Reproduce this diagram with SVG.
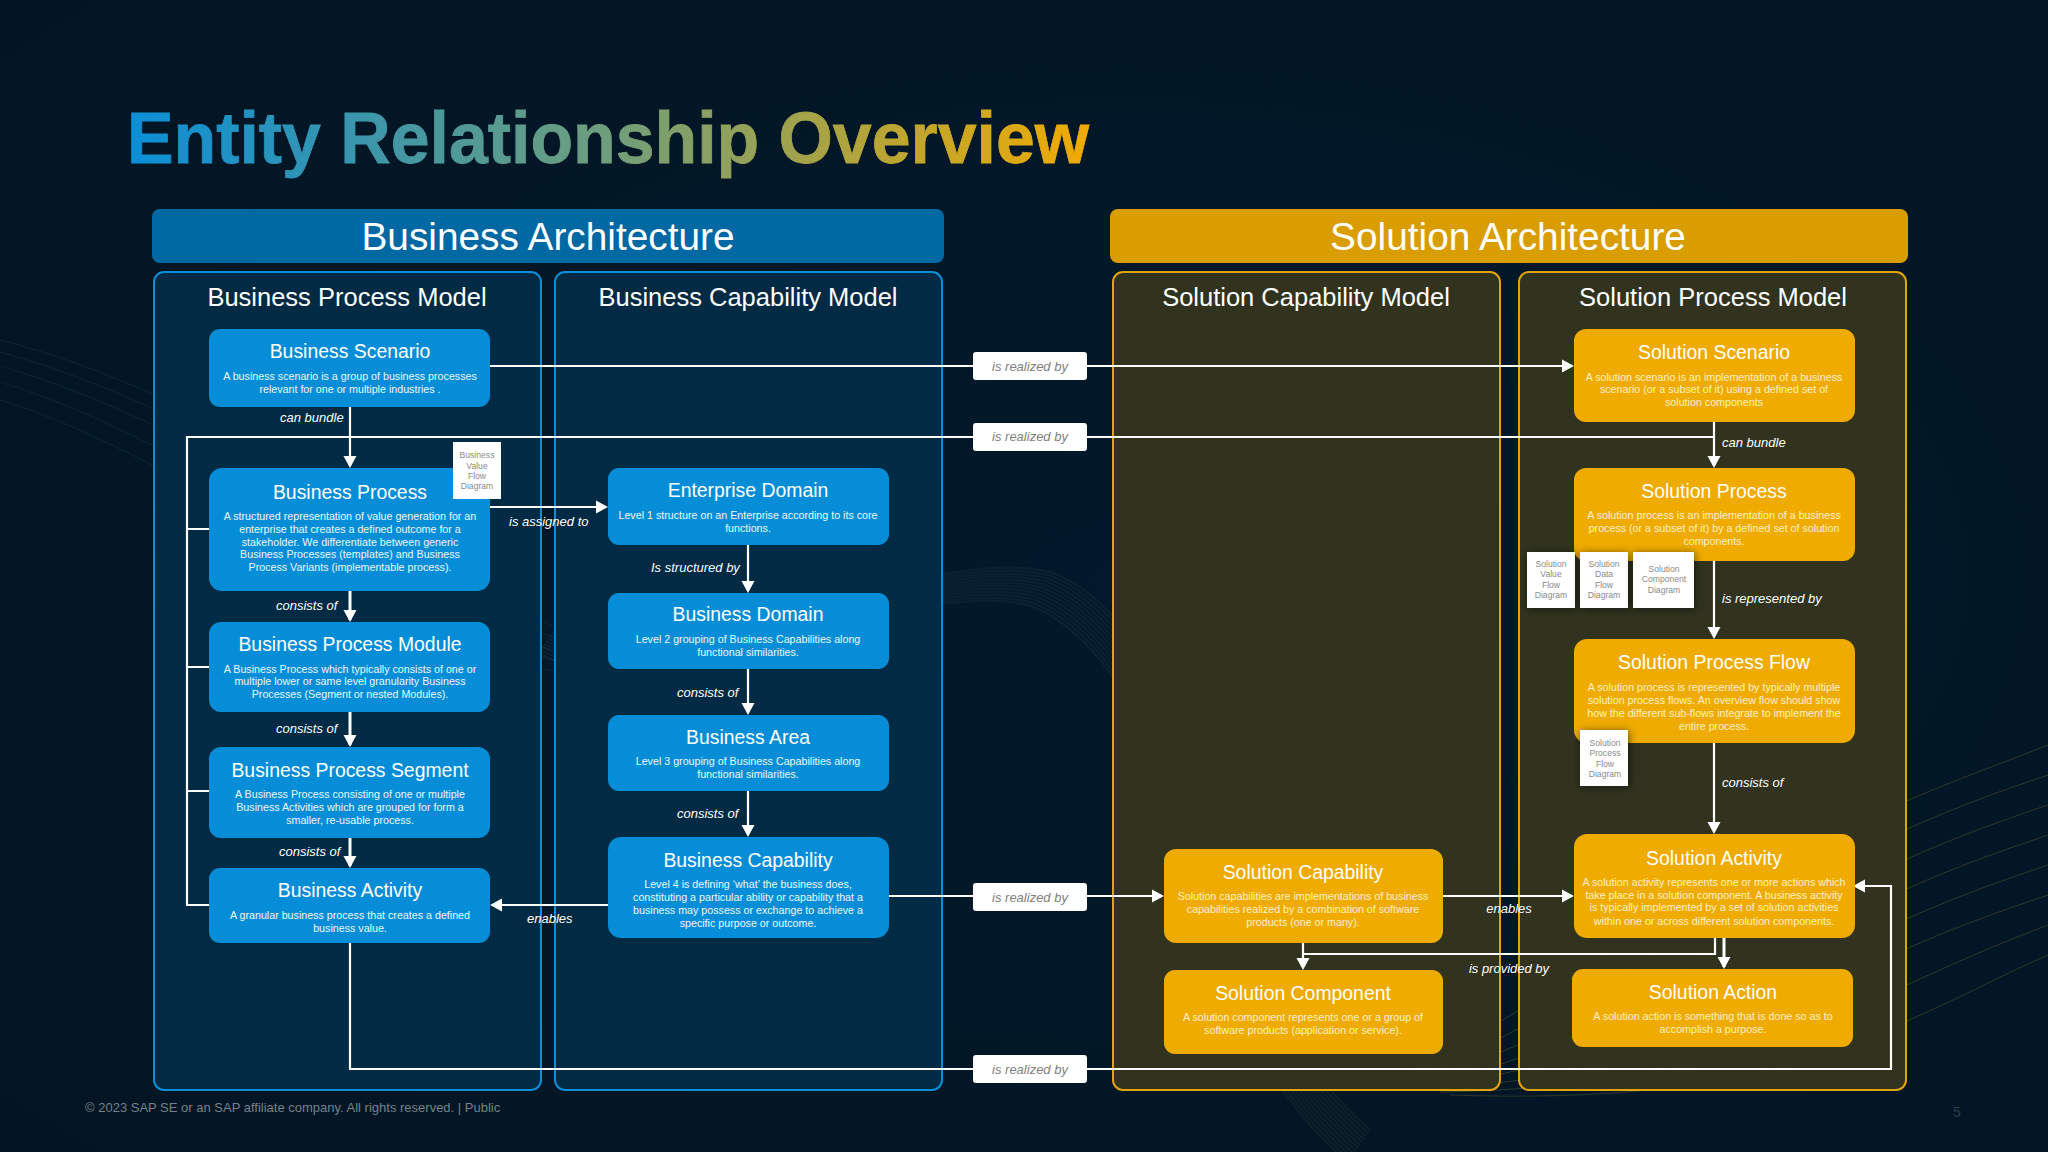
<svg xmlns="http://www.w3.org/2000/svg" xmlns:xlink="http://www.w3.org/1999/xlink" width="2048" height="1152" viewBox="0 0 2048 1152">
<defs>
<linearGradient id="titleGrad" gradientUnits="userSpaceOnUse" x1="127" y1="0" x2="1090" y2="0"><stop offset="0" stop-color="#0a8fd8"/><stop offset="0.5" stop-color="#6f9e7c"/><stop offset="1" stop-color="#f0ab00"/></linearGradient>
<radialGradient id="bgGrad" cx="0.55" cy="0.5" r="0.75"><stop offset="0" stop-color="#03192b"/><stop offset="1" stop-color="#021523"/></radialGradient>
<linearGradient id="waveMid" gradientUnits="userSpaceOnUse" x1="560" y1="0" x2="1350" y2="0"><stop offset="0" stop-color="#8ccbd6"/><stop offset="0.5" stop-color="#7fb0a0"/><stop offset="1" stop-color="#c6b24a"/></linearGradient>
<filter id="shadow" x="-30%" y="-30%" width="160%" height="160%"><feDropShadow dx="1" dy="1" stdDeviation="4" flood-color="#000" flood-opacity="0.55"/></filter>
<marker id="arrow" markerUnits="userSpaceOnUse" markerWidth="14" markerHeight="14" refX="10" refY="7" orient="auto"><path d="M0,0.5 L12,7 L0,13.5 Z" fill="#fff"/></marker>
<path id="wm" d="M560,620 C660,670 780,615 880,588 C950,570 1010,562 1050,572 C1130,600 1190,720 1230,880 C1250,970 1290,1060 1370,1130" fill="none" stroke="url(#waveMid)" stroke-width="2.2" stroke-opacity="0.055"/>
</defs>
<style>
text{font-family:"Liberation Sans",Arial,sans-serif;}
.hdr{font-size:38.8px;fill:#fff;text-anchor:middle;}
.ptitle{font-size:25.5px;fill:#fff;text-anchor:middle;}
.t{font-size:19.4px;fill:#fff;text-anchor:middle;}
.d{font-size:10.7px;fill:#edf7fc;text-anchor:middle;}
.g .d{fill:#fff1c9;}
.bbox{fill:#058ed7;}
.gbox{fill:#f0ab00;}
.bpanel{fill:#012b46;fill-opacity:0.95;stroke:#0a8fd8;stroke-width:2;}
.gpanel{fill:#34351f;fill-opacity:0.95;stroke:#e3a40a;stroke-width:2;}
.c{fill:none;stroke:#fff;stroke-width:2.2;}
.c3{fill:none;stroke:#fff;stroke-width:3;}
.lab{font-size:13px;font-style:italic;fill:#fff;}
.rel{fill:#fff;}
.relt{font-size:13px;font-style:italic;fill:#808080;text-anchor:middle;}
.doc{fill:#fff;}
.doct{font-size:8.6px;fill:#8a8a8a;text-anchor:middle;}
.w1{fill:none;stroke:#9fd0e0;stroke-width:1;stroke-opacity:0.08;}
.w2{fill:none;stroke:#d6bf4a;stroke-width:1;stroke-opacity:0.2;}
</style>
<rect id="background" width="2048" height="1152" fill="url(#bgGrad)"/>
<g id="waves">
<path class="w1" d="M0,340 C120,370 260,440 400,530 S560,640 640,655"/>
<path class="w1" d="M0,352 C120,385 260,455 400,545 S560,650 640,662"/>
<path class="w1" d="M0,366 C120,400 250,470 390,560 S560,660 640,668"/>
<path class="w1" d="M0,382 C110,415 240,490 380,575 S560,668 640,672"/>
<path class="w1" d="M0,400 C100,430 230,505 370,590 S560,676 640,678"/>
<use href="#wm"/><use href="#wm" transform="translate(-2,3)"/><use href="#wm" transform="translate(-4,6)"/><use href="#wm" transform="translate(-6,9)"/><use href="#wm" transform="translate(-8,12)"/><use href="#wm" transform="translate(-10,15)"/><use href="#wm" transform="translate(-12,18)"/><use href="#wm" transform="translate(-14,21)"/><use href="#wm" transform="translate(-16,24)"/><use href="#wm" transform="translate(-18,27)"/><use href="#wm" transform="translate(-20,30)"/><use href="#wm" transform="translate(-22,33)"/>
<path class="w2" d="M1380,1090 C1500,1030 1600,950 1760,870 S1960,780 2048,745"/>
<path class="w2" d="M1390,1090 C1510,1040 1620,970 1770,895 S1960,805 2048,775"/>
<path class="w2" d="M1400,1090 C1520,1050 1640,990 1780,920 S1960,835 2048,805"/>
<path class="w2" d="M1410,1090 C1530,1060 1660,1010 1790,945 S1960,865 2048,835"/>
<path class="w2" d="M1420,1090 C1540,1070 1680,1030 1800,970 S1960,895 2048,865"/>
<path class="w2" d="M1430,1090 C1560,1080 1700,1050 1810,995 S1960,925 2048,895"/>
<path class="w2" d="M1440,1092 C1570,1090 1720,1070 1830,1020 S1970,955 2048,925"/>
<path class="w2" d="M1450,1095 C1590,1100 1740,1090 1850,1045 S1980,985 2048,955"/>
</g>
<text id="title" x="127" y="163" font-size="72" font-weight="700" fill="url(#titleGrad)" stroke="url(#titleGrad)" stroke-width="0.8" textLength="962" lengthAdjust="spacingAndGlyphs">Entity Relationship Overview</text>
<g id="header-business"><rect x="152" y="209" width="792" height="54" rx="8" fill="#0068a3"/><text class="hdr" x="548" y="250">Business Architecture</text></g>
<g id="header-solution"><rect x="1110" y="209" width="798" height="54" rx="8" fill="#d99d00"/><text class="hdr" x="1508" y="250">Solution Architecture</text></g>
<g id="panel-bpm"><rect class="bpanel" x="154" y="272" width="387" height="818" rx="10"/><text class="ptitle" x="347" y="306">Business Process Model</text></g>
<g id="panel-bcm"><rect class="bpanel" x="555" y="272" width="387" height="818" rx="10"/><text class="ptitle" x="748" y="306">Business Capability Model</text></g>
<g id="panel-scm"><rect class="gpanel" x="1113" y="272" width="387" height="818" rx="10"/><text class="ptitle" x="1306" y="306">Solution Capability Model</text></g>
<g id="panel-spm"><rect class="gpanel" x="1519" y="272" width="387" height="818" rx="10"/><text class="ptitle" x="1713" y="306">Solution Process Model</text></g>

<g id="connectors">
<path class="c" d="M490,366H1572" marker-end="url(#arrow)"/>
<path class="c" d="M350,407V466" marker-end="url(#arrow)"/>
<path class="c" d="M1714,437H187V905H209"/>
<path class="c" d="M187,529H209M187,667H209M187,791H209"/>
<path class="c" d="M1714,422V466" marker-end="url(#arrow)"/>
<path class="c" d="M490,507H606" marker-end="url(#arrow)"/>
<path class="c3" d="M350,591V620" marker-end="url(#arrow)"/>
<path class="c3" d="M350,712V745" marker-end="url(#arrow)"/>
<path class="c3" d="M350,838V866" marker-end="url(#arrow)"/>
<path class="c" d="M748,545V591" marker-end="url(#arrow)"/>
<path class="c" d="M748,669V713" marker-end="url(#arrow)"/>
<path class="c" d="M748,791V835" marker-end="url(#arrow)"/>
<path class="c" d="M608,905H492" marker-end="url(#arrow)"/>
<path class="c" d="M889,896H1162" marker-end="url(#arrow)"/>
<path class="c" d="M1443,896H1572" marker-end="url(#arrow)"/>
<path class="c" d="M1714,561V637" marker-end="url(#arrow)"/>
<path class="c" d="M1714,743V832" marker-end="url(#arrow)"/>
<path class="c" d="M1715,938V954H1303"/>
<path class="c" d="M1303,943V968" marker-end="url(#arrow)"/>
<path class="c3" d="M1724,938V967" marker-end="url(#arrow)"/>
<path class="c" d="M350,943V1069H1891V886H1855" marker-end="url(#arrow)"/>
</g>

<g id="connector-labels">
<text class="lab" x="280" y="422">can bundle</text>
<text class="lab" x="276" y="610">consists of</text>
<text class="lab" x="276" y="733">consists of</text>
<text class="lab" x="279" y="856">consists of</text>
<text class="lab" x="527" y="923">enables</text>
<text class="lab" x="509" y="526">is assigned to</text>
<text class="lab" x="651" y="572">Is structured by</text>
<text class="lab" x="677" y="697">consists of</text>
<text class="lab" x="677" y="818">consists of</text>
<text class="lab" x="1722" y="447">can bundle</text>
<text class="lab" x="1722" y="603">is represented by</text>
<text class="lab" x="1722" y="787">consists of</text>
<text class="lab" x="1509" y="913" text-anchor="middle">enables</text>
<text class="lab" x="1509" y="973" text-anchor="middle">is provided by</text>
<g id="rel1"><rect class="rel" x="973" y="352" width="114" height="28" rx="3"/><text class="relt" x="1030" y="370.5">is realized by</text></g>
<g id="rel2"><rect class="rel" x="973" y="423" width="114" height="28" rx="3"/><text class="relt" x="1030" y="441">is realized by</text></g>
<g id="rel3"><rect class="rel" x="973" y="883" width="114" height="28" rx="3"/><text class="relt" x="1030" y="902">is realized by</text></g>
<g id="rel4"><rect class="rel" x="973" y="1055" width="114" height="28" rx="3"/><text class="relt" x="1030" y="1074">is realized by</text></g>
</g>

<g id="business-scenario"><rect class="bbox" x="209" y="329" width="281" height="78" rx="11"/><text class="t" x="350" y="358">Business Scenario</text><text class="d" x="350" y="380">A business scenario is a group of business processes</text><text class="d" x="350" y="392.5">relevant for one or multiple  industries .</text></g>
<g id="business-process"><rect class="bbox" x="209" y="468" width="281" height="123" rx="13"/><text class="t" x="350" y="499">Business Process</text><text class="d" x="350" y="520">A structured representation of  value generation for an</text><text class="d" x="350" y="533">enterprise that creates a defined outcome for a</text><text class="d" x="350" y="546">stakeholder. We differentiate between generic</text><text class="d" x="350" y="558">Business Processes (templates) and Business</text><text class="d" x="350" y="571">Process Variants (implementable  process).</text></g>
<g id="business-process-module"><rect class="bbox" x="209" y="622" width="281" height="90" rx="12"/><text class="t" x="350" y="651">Business Process Module</text><text class="d" x="350" y="673">A Business Process which typically consists of one or</text><text class="d" x="350" y="685">multiple  lower or same level granularity Business</text><text class="d" x="350" y="698">Processes (Segment or nested Modules).</text></g>
<g id="business-process-segment"><rect class="bbox" x="209" y="747" width="281" height="91" rx="12"/><text class="t" x="350" y="777">Business Process Segment</text><text class="d" x="350" y="798">A Business Process consisting of one or multiple</text><text class="d" x="350" y="811">Business Activities which are grouped for form a</text><text class="d" x="350" y="824">smaller, re-usable process.</text></g>
<g id="business-activity"><rect class="bbox" x="209" y="868" width="281" height="75" rx="11"/><text class="t" x="350" y="897">Business Activity</text><text class="d" x="350" y="919">A granular business process that creates a defined</text><text class="d" x="350" y="932">business value.</text></g>

<g id="enterprise-domain"><rect class="bbox" x="608" y="468" width="281" height="77" rx="11"/><text class="t" x="748" y="497">Enterprise Domain</text><text class="d" x="748" y="519">Level 1 structure on an Enterprise according to its core</text><text class="d" x="748" y="532">functions.</text></g>
<g id="business-domain"><rect class="bbox" x="608" y="593" width="281" height="76" rx="11"/><text class="t" x="748" y="621">Business Domain</text><text class="d" x="748" y="643">Level 2 grouping of Business Capabilities along</text><text class="d" x="748" y="656">functional similarities.</text></g>
<g id="business-area"><rect class="bbox" x="608" y="715" width="281" height="76" rx="11"/><text class="t" x="748" y="744">Business Area</text><text class="d" x="748" y="765">Level 3 grouping of Business Capabilities along</text><text class="d" x="748" y="778">functional similarities.</text></g>
<g id="business-capability"><rect class="bbox" x="608" y="837" width="281" height="101" rx="13"/><text class="t" x="748" y="867">Business Capability</text><text class="d" x="748" y="888">Level 4 is defining ‘what’ the business does,</text><text class="d" x="748" y="901">constituting a particular ability or capability that a</text><text class="d" x="748" y="914">business may possess or exchange to achieve a</text><text class="d" x="748" y="927">specific purpose or outcome.</text></g>

<g id="solution-capability" class="g"><rect class="gbox" x="1164" y="849" width="279" height="94" rx="12"/><text class="t" x="1303" y="879">Solution Capability</text><text class="d" x="1303" y="900">Solution capabilities are implementations of business</text><text class="d" x="1303" y="913">capabilities realized by a combination of software</text><text class="d" x="1303" y="926">products (one or many).</text></g>
<g id="solution-component" class="g"><rect class="gbox" x="1164" y="970" width="279" height="84" rx="11"/><text class="t" x="1303" y="1000">Solution Component</text><text class="d" x="1303" y="1021">A solution component represents one or a group of</text><text class="d" x="1303" y="1034">software products (application or service).</text></g>
<g id="solution-scenario" class="g"><rect class="gbox" x="1574" y="329" width="281" height="93" rx="12"/><text class="t" x="1714" y="359">Solution Scenario</text><text class="d" x="1714" y="381">A solution scenario is an implementation of a business</text><text class="d" x="1714" y="393">scenario (or a subset of it) using a defined set of</text><text class="d" x="1714" y="406">solution components</text></g>
<g id="solution-process" class="g"><rect class="gbox" x="1574" y="468" width="281" height="93" rx="12"/><text class="t" x="1714" y="498">Solution Process</text><text class="d" x="1714" y="519">A solution process is an implementation of a business</text><text class="d" x="1714" y="532">process (or a subset of it) by a defined set of solution</text><text class="d" x="1714" y="545">components.</text></g>
<g id="solution-process-flow" class="g"><rect class="gbox" x="1574" y="639" width="281" height="104" rx="13"/><text class="t" x="1714" y="669">Solution Process Flow</text><text class="d" x="1714" y="691">A solution process is represented by typically multiple</text><text class="d" x="1714" y="704">solution process flows. An overview flow should show</text><text class="d" x="1714" y="717">how the different sub-flows integrate to implement  the</text><text class="d" x="1714" y="730">entire process.</text></g>
<g id="solution-activity" class="g"><rect class="gbox" x="1574" y="834" width="281" height="104" rx="13"/><text class="t" x="1714" y="865">Solution Activity</text><text class="d" x="1714" y="886">A solution activity represents one or more actions which</text><text class="d" x="1714" y="899">take place in a solution component. A business activity</text><text class="d" x="1714" y="911">is typically implemented by a set of solution activities</text><text class="d" x="1714" y="925">within one or across different solution components.</text></g>
<g id="solution-action" class="g"><rect class="gbox" x="1572" y="969" width="281" height="78" rx="11"/><text class="t" x="1713" y="999">Solution Action</text><text class="d" x="1713" y="1020">A solution action is something that is done so as to</text><text class="d" x="1713" y="1033">accomplish a purpose.</text></g>

<g id="doc-business-value"><rect class="doc" x="453" y="442" width="48" height="57"/><text class="doct" x="477" y="458">Business</text><text class="doct" x="477" y="469">Value</text><text class="doct" x="477" y="479">Flow</text><text class="doct" x="477" y="489">Diagram</text></g>
<g id="doc-solution-value"><rect class="doc" x="1527" y="552" width="48" height="56" filter="url(#shadow)"/><text class="doct" x="1551" y="567">Solution</text><text class="doct" x="1551" y="577">Value</text><text class="doct" x="1551" y="588">Flow</text><text class="doct" x="1551" y="598">Diagram</text></g>
<g id="doc-solution-data"><rect class="doc" x="1580" y="552" width="48" height="56" filter="url(#shadow)"/><text class="doct" x="1604" y="567">Solution</text><text class="doct" x="1604" y="577">Data</text><text class="doct" x="1604" y="588">Flow</text><text class="doct" x="1604" y="598">Diagram</text></g>
<g id="doc-solution-component"><rect class="doc" x="1633" y="552" width="61" height="56" filter="url(#shadow)"/><text class="doct" x="1664" y="572">Solution</text><text class="doct" x="1664" y="582">Component</text><text class="doct" x="1664" y="593">Diagram</text></g>
<g id="doc-solution-process-flow"><rect class="doc" x="1580" y="730" width="48" height="56" filter="url(#shadow)"/><text class="doct" x="1605" y="746">Solution</text><text class="doct" x="1605" y="756">Process</text><text class="doct" x="1605" y="767">Flow</text><text class="doct" x="1605" y="777">Diagram</text></g>

<text id="footer" x="85" y="1112" font-size="13" fill="#76818a">© 2023 SAP SE or an SAP affiliate company. All rights reserved. | Public</text>
<text id="page" x="1957" y="1117" font-size="14" fill="#2b3d4b" text-anchor="middle">5</text>
</svg>
